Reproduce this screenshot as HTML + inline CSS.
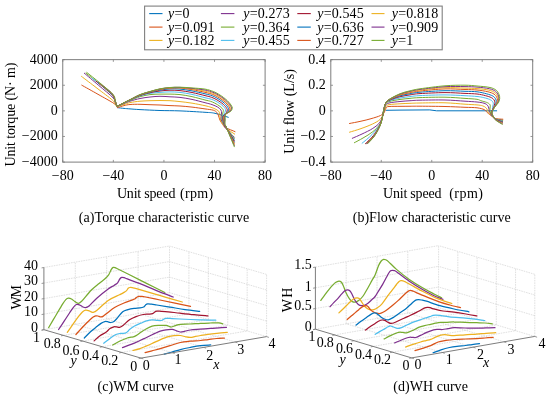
<!DOCTYPE html>
<html lang="en">
<head>
<meta charset="utf-8">
<title>Characteristic curves</title>
<style>
html,body{margin:0;padding:0;background:#fff;}
body{width:550px;height:396px;overflow:hidden;}
svg text{font-family:"Liberation Serif","Times New Roman",serif;}
</style>
</head>
<body>
<svg width="550" height="396" viewBox="0 0 550 396" font-family='"Liberation Serif", "Times New Roman", serif' style="display:block">
<rect width="550" height="396" fill="#fff"/>
<path d="M117.7 107.7 C118.75 107.82 121.95 108.2 124 108.4 C126.05 108.6 127.33 108.7 130 108.9 C132.67 109.1 135 109.33 140 109.6 C145 109.87 153.33 110.28 160 110.5 C166.67 110.72 172.5 110.6 180 110.9 C187.5 111.2 199.17 111.9 205 112.3 C210.83 112.7 211.12 112.47 215 113.3 C218.88 114.13 226.08 116.63 228.3 117.3" stroke="#0072BD" stroke-width="1.0" fill="none" stroke-linejoin="round" stroke-linecap="round"/>
<path d="M81.8 85.2 C84.5 86.72 92.6 91.23 98 94.3 C103.4 97.37 110.93 101.38 114.2 103.6 C117.47 105.82 117.03 106.93 117.6 107.6 M117.7 107.6 C118.75 107.27 121.95 106.12 124 105.6 C126.05 105.08 127.33 104.72 130 104.5 C132.67 104.28 136.67 104.27 140 104.3 C143.33 104.33 146.67 104.58 150 104.7 C153.33 104.82 156.67 104.85 160 105 C163.33 105.15 166.67 105.43 170 105.6 C173.33 105.77 176.33 105.75 180 106 C183.67 106.25 187.83 106.62 192 107.1 C196.17 107.59 201.45 108.38 205 108.9 C208.55 109.42 211.33 109.62 213.3 110.2 C215.27 110.78 215.97 111.58 216.8 112.4 C217.63 113.22 217.78 113.83 218.3 115.1 C218.82 116.37 219.18 118.47 219.9 120 C220.62 121.53 221.65 123.03 222.6 124.3 C223.55 125.57 223.53 126.38 225.6 127.6 C227.67 128.82 233.43 130.93 235 131.6" stroke="#D95319" stroke-width="1.0" fill="none" stroke-linejoin="round" stroke-linecap="round"/>
<path d="M81.5 76.4 C84.08 78.37 91.83 84.23 97 88.2 C102.17 92.17 109.45 97.47 112.5 100.2 C115.55 102.93 114.55 103.53 115.3 104.6 C116.05 105.67 116.72 106.27 117 106.6 M117.3 106.3 C118.42 106.02 121.88 105.22 124 104.6 C126.12 103.98 127.33 103.17 130 102.6 C132.67 102.03 136.67 101.52 140 101.2 C143.33 100.88 146.67 100.82 150 100.7 C153.33 100.58 156.67 100.5 160 100.5 C163.33 100.5 166.67 100.52 170 100.7 C173.33 100.88 176.33 101.19 180 101.6 C183.67 102.01 187.83 102.47 192 103.16 C196.17 103.84 201.83 105.01 205 105.7 C208.17 106.39 209.33 106.77 211 107.3 C212.67 107.83 213.73 108.27 215 108.9 C216.27 109.53 217.8 110.22 218.6 111.1 C219.4 111.98 219.52 112.72 219.8 114.2 C220.08 115.68 219.78 118.37 220.3 120 C220.82 121.63 222.02 122.67 222.9 124 C223.78 125.33 223.63 126.32 225.6 128 C227.57 129.68 233.18 133.08 234.7 134.1" stroke="#EDB120" stroke-width="1.0" fill="none" stroke-linejoin="round" stroke-linecap="round"/>
<path d="M84.3 73.2 C86.7 75.23 93.9 81.3 98.7 85.4 C103.5 89.5 110.28 94.77 113.1 97.8 C115.92 100.83 114.97 102.23 115.6 103.6 C116.23 104.97 116.68 105.6 116.9 106 M117.3 106.3 C118.42 105.85 121.88 104.45 124 103.6 C126.12 102.75 127.33 102.05 130 101.2 C132.67 100.35 136.67 99.2 140 98.5 C143.33 97.8 146.67 97.37 150 97 C153.33 96.63 156.67 96.33 160 96.3 C163.33 96.27 166.67 96.62 170 96.8 C173.33 96.98 176.33 96.96 180 97.4 C183.67 97.84 187.83 98.53 192 99.41 C196.17 100.3 201.67 101.84 205 102.7 C208.33 103.56 209.88 103.87 212 104.6 C214.12 105.33 216.22 106.2 217.7 107.1 C219.18 108 220.27 109.02 220.9 110 C221.53 110.98 221.45 111.92 221.5 113 C221.55 114.08 221.25 115.33 221.2 116.5 C221.15 117.67 220.8 118.75 221.2 120 C221.6 121.25 222.83 122.6 223.6 124 C224.37 125.4 224.02 126.2 225.8 128.4 C227.58 130.6 232.88 135.73 234.3 137.2" stroke="#7E2F8E" stroke-width="1.0" fill="none" stroke-linejoin="round" stroke-linecap="round"/>
<path d="M86.04 73.28 C88.24 75.04 94.87 80.18 99.24 83.83 C103.6 87.48 109.65 92.41 112.24 95.18 C114.82 97.94 114.08 98.85 114.76 100.42 C115.44 101.99 115.94 103.67 116.3 104.6 C116.66 105.53 116.8 105.77 116.9 106 M117.3 106.3 C118.42 105.78 121.88 104.17 124 103.2 C126.12 102.23 127.33 101.58 130 100.5 C132.67 99.42 136.67 97.68 140 96.7 C143.33 95.72 146.67 95.03 150 94.6 C153.33 94.17 156.67 94.18 160 94.1 C163.33 94.02 166.67 94.02 170 94.1 C173.33 94.18 176.33 94.17 180 94.6 C183.67 95.03 187.83 95.75 192 96.65 C196.17 97.55 201.91 99.23 205 100 C208.09 100.77 208.99 100.83 210.52 101.3 C212.05 101.77 213.03 102.27 214.2 102.83 C215.37 103.39 216.53 104.04 217.51 104.65 C218.49 105.25 219.35 105.88 220.09 106.46 C220.82 107.05 221.45 107.66 221.93 108.15 C222.4 108.65 222.69 109.05 222.94 109.44 C223.19 109.83 223.42 109.89 223.4 110.5 C223.38 111.11 223 112.33 222.8 113.1 C222.6 113.87 222.33 114.62 222.2 115.1 C222.07 115.58 222.02 115.18 222 116 C221.98 116.82 221.82 118.67 222.1 120 C222.38 121.33 222.99 122.78 223.66 124 C224.33 125.22 224.35 124.9 226.12 127.3 C227.89 129.7 232.94 136.54 234.3 138.39" stroke="#77AC30" stroke-width="1.0" fill="none" stroke-linejoin="round" stroke-linecap="round"/>
<path d="M92.04 78.06 C93.74 79.41 98.9 83.32 102.29 86.16 C105.67 88.99 110.25 92.68 112.34 95.06 C114.43 97.43 114.16 98.8 114.82 100.39 C115.48 101.98 115.95 103.66 116.3 104.6 C116.65 105.54 116.8 105.77 116.9 106 M117.3 106.3 C118.42 105.75 121.88 104.02 124 103 C126.12 101.98 127.33 101.38 130 100.2 C132.67 99.02 136.67 97.03 140 95.9 C143.33 94.77 146.67 93.98 150 93.4 C153.33 92.82 156.67 92.65 160 92.4 C163.33 92.15 166.67 91.9 170 91.9 C173.33 91.9 176.33 91.98 180 92.4 C183.67 92.82 187.83 93.53 192 94.41 C196.17 95.3 201.8 96.9 205 97.7 C208.2 98.5 209.46 98.66 211.18 99.2 C212.9 99.74 214 100.32 215.3 100.96 C216.6 101.61 217.91 102.36 219.01 103.06 C220.11 103.75 221.07 104.47 221.89 105.15 C222.72 105.82 223.42 106.52 223.95 107.1 C224.48 107.67 224.81 108.13 225.08 108.58 C225.36 109.03 225.63 109.15 225.6 109.8 C225.57 110.45 225.2 111.69 224.89 112.47 C224.58 113.25 224.15 113.91 223.74 114.5 C223.34 115.09 222.66 115.08 222.46 116 C222.26 116.92 222.31 118.67 222.54 120 C222.77 121.33 223.24 122.78 223.84 124 C224.44 125.22 224.41 124.7 226.15 127.3 C227.89 129.9 232.94 137.53 234.3 139.58" stroke="#4DBEEE" stroke-width="1.0" fill="none" stroke-linejoin="round" stroke-linecap="round"/>
<path d="M96.14 81.23 C97.51 82.31 101.67 85.4 104.39 87.68 C107.1 89.97 110.69 92.82 112.44 94.93 C114.19 97.05 114.24 98.74 114.88 100.35 C115.53 101.96 115.96 103.66 116.3 104.6 C116.64 105.54 116.8 105.77 116.9 106 M117.3 106.3 C118.42 105.73 121.88 103.95 124 102.9 C126.12 101.85 127.33 101.23 130 100 C132.67 98.77 136.67 96.72 140 95.5 C143.33 94.28 146.67 93.45 150 92.7 C153.33 91.95 156.67 91.42 160 91 C163.33 90.58 166.67 90.27 170 90.2 C173.33 90.13 176.33 90.22 180 90.6 C183.67 90.98 187.83 91.67 192 92.5 C196.17 93.33 201.72 94.79 205 95.6 C208.28 96.41 209.83 96.72 211.69 97.36 C213.55 98 214.74 98.68 216.15 99.43 C217.56 100.18 218.97 101.07 220.16 101.89 C221.35 102.71 222.39 103.55 223.29 104.34 C224.18 105.13 224.94 105.96 225.52 106.63 C226.09 107.3 226.45 107.84 226.74 108.36 C227.04 108.89 227.35 109.1 227.3 109.8 C227.25 110.5 226.89 111.74 226.47 112.54 C226.05 113.34 225.38 114.02 224.79 114.6 C224.19 115.18 223.21 115.1 222.91 116 C222.61 116.9 222.8 118.67 222.99 120 C223.17 121.33 223.48 122.78 224.01 124 C224.55 125.22 224.47 124.5 226.18 127.3 C227.89 130.09 232.95 138.52 234.3 140.77" stroke="#A2142F" stroke-width="1.0" fill="none" stroke-linejoin="round" stroke-linecap="round"/>
<path d="M98.24 82.81 C99.45 83.75 103.1 86.41 105.49 88.41 C107.87 90.41 110.96 92.83 112.54 94.81 C114.11 96.8 114.32 98.68 114.94 100.31 C115.57 101.95 115.97 103.65 116.3 104.6 C116.63 105.55 116.8 105.77 116.9 106 M117.3 106.3 C118.42 105.72 121.88 103.87 124 102.8 C126.12 101.73 127.33 101.17 130 99.9 C132.67 98.63 136.67 96.48 140 95.2 C143.33 93.92 146.67 93.03 150 92.2 C153.33 91.37 156.67 90.75 160 90.2 C163.33 89.65 166.67 89.08 170 88.9 C173.33 88.72 176.33 88.77 180 89.1 C183.67 89.43 187.83 90.1 192 90.89 C196.17 91.67 201.65 92.99 205 93.8 C208.35 94.61 210.13 95.02 212.11 95.72 C214.08 96.42 215.35 97.16 216.85 97.98 C218.35 98.8 219.85 99.77 221.12 100.66 C222.38 101.56 223.49 102.48 224.43 103.34 C225.38 104.2 226.19 105.1 226.8 105.84 C227.42 106.57 227.79 107.16 228.11 107.73 C228.42 108.31 228.76 108.57 228.7 109.3 C228.64 110.03 228.29 111.3 227.76 112.11 C227.23 112.93 226.26 113.55 225.53 114.2 C224.8 114.85 223.72 115.03 223.37 116 C223.02 116.97 223.29 118.67 223.43 120 C223.57 121.33 223.73 122.78 224.19 124 C224.65 125.22 224.53 124.31 226.21 127.3 C227.89 130.29 232.95 139.52 234.3 141.96" stroke="#0072BD" stroke-width="1.0" fill="none" stroke-linejoin="round" stroke-linecap="round"/>
<path d="M99.34 83.49 C100.46 84.36 103.87 86.83 106.09 88.69 C108.3 90.56 111.15 92.76 112.64 94.69 C114.12 96.62 114.39 98.63 115 100.28 C115.61 101.93 115.98 103.65 116.3 104.6 C116.62 105.55 116.8 105.77 116.9 106 M117.3 106.3 C118.42 105.72 121.88 103.88 124 102.8 C126.12 101.72 127.33 101.1 130 99.8 C132.67 98.5 136.67 96.32 140 95 C143.33 93.68 146.67 92.8 150 91.9 C153.33 91 156.67 90.22 160 89.6 C163.33 88.98 166.67 88.47 170 88.2 C173.33 87.93 176.33 87.76 180 88 C183.67 88.24 187.83 88.92 192 89.63 C196.17 90.35 201.58 91.51 205 92.3 C208.42 93.09 210.42 93.61 212.5 94.36 C214.58 95.1 215.92 95.89 217.5 96.78 C219.08 97.66 220.67 98.69 222 99.65 C223.33 100.61 224.5 101.59 225.5 102.52 C226.5 103.44 227.35 104.41 228 105.19 C228.65 105.97 229.04 106.6 229.38 107.22 C229.71 107.84 230.07 108.14 230 108.9 C229.93 109.66 229.58 110.95 228.94 111.79 C228.3 112.62 227.02 113.2 226.17 113.9 C225.32 114.6 224.21 114.98 223.83 116 C223.45 117.02 223.78 118.67 223.87 120 C223.96 121.33 223.97 122.78 224.37 124 C224.76 125.22 224.58 124.11 226.24 127.3 C227.9 130.49 232.96 140.51 234.3 143.15" stroke="#D95319" stroke-width="1.0" fill="none" stroke-linejoin="round" stroke-linecap="round"/>
<path d="M99.94 83.77 C101.02 84.61 104.31 86.97 106.44 88.77 C108.57 90.57 111.3 92.66 112.74 94.57 C114.18 96.48 114.47 98.57 115.06 100.24 C115.66 101.91 115.99 103.64 116.3 104.6 C116.61 105.56 116.8 105.77 116.9 106 M117.3 106.3 C118.42 105.72 121.88 103.88 124 102.8 C126.12 101.72 127.33 101.13 130 99.8 C132.67 98.47 136.67 96.15 140 94.8 C143.33 93.45 146.67 92.63 150 91.7 C153.33 90.77 156.67 89.85 160 89.2 C163.33 88.55 166.67 88.07 170 87.8 C173.33 87.53 176.33 87.41 180 87.6 C183.67 87.79 187.83 88.35 192 88.93 C196.17 89.51 201.54 90.38 205 91.1 C208.46 91.82 210.61 92.47 212.77 93.24 C214.93 94.02 216.31 94.85 217.95 95.77 C219.59 96.69 221.23 97.76 222.61 98.76 C223.99 99.76 225.2 100.79 226.24 101.75 C227.27 102.71 228.16 103.72 228.83 104.53 C229.5 105.35 229.91 106.01 230.25 106.65 C230.6 107.3 230.99 107.62 230.9 108.4 C230.81 109.18 230.48 110.51 229.73 111.36 C228.98 112.21 227.32 112.73 226.41 113.5 C225.51 114.27 224.64 114.92 224.29 116 C223.94 117.08 224.27 118.67 224.31 120 C224.36 121.33 224.22 122.78 224.55 124 C224.87 125.22 224.64 123.91 226.27 127.3 C227.9 130.69 232.96 141.5 234.3 144.34" stroke="#EDB120" stroke-width="1.0" fill="none" stroke-linejoin="round" stroke-linecap="round"/>
<path d="M100.34 83.95 C101.4 84.76 104.61 87.05 106.69 88.8 C108.77 90.55 111.43 92.55 112.84 94.45 C114.25 96.35 114.55 98.51 115.12 100.21 C115.7 101.9 116 103.63 116.3 104.6 C116.6 105.57 116.8 105.77 116.9 106 M117.3 106.3 C118.42 105.7 121.88 103.8 124 102.7 C126.12 101.6 127.33 101.03 130 99.7 C132.67 98.37 136.67 96.05 140 94.7 C143.33 93.35 146.67 92.55 150 91.6 C153.33 90.65 156.67 89.67 160 89 C163.33 88.33 166.67 87.87 170 87.6 C173.33 87.33 176.33 87.27 180 87.4 C183.67 87.53 187.83 87.95 192 88.39 C196.17 88.82 201.5 89.36 205 90 C208.5 90.64 210.76 91.44 212.98 92.25 C215.2 93.07 216.62 93.94 218.3 94.91 C219.98 95.88 221.67 97.01 223.09 98.06 C224.51 99.11 225.75 100.19 226.81 101.2 C227.88 102.22 228.78 103.27 229.47 104.13 C230.16 104.99 230.58 105.68 230.94 106.36 C231.29 107.04 231.7 107.39 231.6 108.2 C231.5 109.01 231.17 110.36 230.31 111.23 C229.46 112.1 227.39 112.6 226.46 113.4 C225.53 114.2 225.03 114.9 224.74 116 C224.46 117.1 224.76 118.67 224.76 120 C224.75 121.33 224.47 122.78 224.72 124 C224.98 125.22 224.7 123.71 226.3 127.3 C227.9 130.89 232.97 142.49 234.3 145.53" stroke="#7E2F8E" stroke-width="1.0" fill="none" stroke-linejoin="round" stroke-linecap="round"/>
<path d="M86.74 72.43 C88.94 74.19 95.57 79.33 99.94 82.98 C104.31 86.63 110.4 91.47 112.94 94.33 C115.48 97.19 114.62 98.46 115.18 100.17 C115.74 101.88 116.01 103.63 116.3 104.6 C116.59 105.57 116.8 105.77 116.9 106 M117.3 106.3 C118.42 105.7 121.88 103.8 124 102.7 C126.12 101.6 127.33 101.05 130 99.7 C132.67 98.35 136.67 95.97 140 94.6 C143.33 93.23 146.67 92.47 150 91.5 C153.33 90.53 156.67 89.47 160 88.8 C163.33 88.13 166.67 87.77 170 87.5 C173.33 87.23 176.33 87.13 180 87.2 C183.67 87.27 187.83 87.61 192 87.92 C196.17 88.24 201.47 88.51 205 89.1 C208.53 89.69 210.91 90.59 213.19 91.44 C215.47 92.29 216.92 93.19 218.65 94.2 C220.38 95.2 222.11 96.38 223.56 97.47 C225.02 98.56 226.29 99.68 227.39 100.73 C228.48 101.79 229.41 102.88 230.12 103.78 C230.82 104.67 231.25 105.39 231.62 106.09 C231.98 106.79 232.42 107.16 232.3 108 C232.18 108.84 231.87 110.22 230.9 111.1 C229.93 111.98 227.45 112.48 226.5 113.3 C225.55 114.12 225.42 114.88 225.2 116 C224.98 117.12 225.25 118.67 225.2 120 C225.15 121.33 224.71 122.78 224.9 124 C225.09 125.22 224.76 123.51 226.33 127.3 C227.9 131.09 232.97 143.48 234.3 146.72" stroke="#77AC30" stroke-width="1.0" fill="none" stroke-linejoin="round" stroke-linecap="round"/>
<rect x="62.75" y="59.65" width="202.35" height="102.45" fill="none" stroke="#7d7d7d" stroke-width="1.0"/>
<line x1="62.75" y1="162.1" x2="62.75" y2="159.9" stroke="#7d7d7d" stroke-width="0.8"/>
<line x1="62.75" y1="59.65" x2="62.75" y2="61.85" stroke="#7d7d7d" stroke-width="0.8"/>
<text x="62.75" y="179.5" font-size="14" text-anchor="middle" fill="#000">−80</text>
<line x1="113.34" y1="162.1" x2="113.34" y2="159.9" stroke="#7d7d7d" stroke-width="0.8"/>
<line x1="113.34" y1="59.65" x2="113.34" y2="61.85" stroke="#7d7d7d" stroke-width="0.8"/>
<text x="113.34" y="179.5" font-size="14" text-anchor="middle" fill="#000">−40</text>
<line x1="163.93" y1="162.1" x2="163.93" y2="159.9" stroke="#7d7d7d" stroke-width="0.8"/>
<line x1="163.93" y1="59.65" x2="163.93" y2="61.85" stroke="#7d7d7d" stroke-width="0.8"/>
<text x="163.93" y="179.5" font-size="14" text-anchor="middle" fill="#000">0</text>
<line x1="214.52" y1="162.1" x2="214.52" y2="159.9" stroke="#7d7d7d" stroke-width="0.8"/>
<line x1="214.52" y1="59.65" x2="214.52" y2="61.85" stroke="#7d7d7d" stroke-width="0.8"/>
<text x="214.52" y="179.5" font-size="14" text-anchor="middle" fill="#000">40</text>
<line x1="265.11" y1="162.1" x2="265.11" y2="159.9" stroke="#7d7d7d" stroke-width="0.8"/>
<line x1="265.11" y1="59.65" x2="265.11" y2="61.85" stroke="#7d7d7d" stroke-width="0.8"/>
<text x="265.11" y="179.5" font-size="14" text-anchor="middle" fill="#000">80</text>
<line x1="62.75" y1="59.65" x2="64.95" y2="59.65" stroke="#7d7d7d" stroke-width="0.8"/>
<line x1="265.1" y1="59.65" x2="262.9" y2="59.65" stroke="#7d7d7d" stroke-width="0.8"/>
<text x="57.75" y="63.55" font-size="14" text-anchor="end" fill="#000">4000</text>
<line x1="62.75" y1="85.26" x2="64.95" y2="85.26" stroke="#7d7d7d" stroke-width="0.8"/>
<line x1="265.1" y1="85.26" x2="262.9" y2="85.26" stroke="#7d7d7d" stroke-width="0.8"/>
<text x="57.75" y="89.16" font-size="14" text-anchor="end" fill="#000">2000</text>
<line x1="62.75" y1="110.87" x2="64.95" y2="110.87" stroke="#7d7d7d" stroke-width="0.8"/>
<line x1="265.1" y1="110.87" x2="262.9" y2="110.87" stroke="#7d7d7d" stroke-width="0.8"/>
<text x="57.75" y="114.77" font-size="14" text-anchor="end" fill="#000">0</text>
<line x1="62.75" y1="136.48" x2="64.95" y2="136.48" stroke="#7d7d7d" stroke-width="0.8"/>
<line x1="265.1" y1="136.48" x2="262.9" y2="136.48" stroke="#7d7d7d" stroke-width="0.8"/>
<text x="57.75" y="140.38" font-size="14" text-anchor="end" fill="#000">−2000</text>
<line x1="62.75" y1="162.09" x2="64.95" y2="162.09" stroke="#7d7d7d" stroke-width="0.8"/>
<line x1="265.1" y1="162.09" x2="262.9" y2="162.09" stroke="#7d7d7d" stroke-width="0.8"/>
<text x="57.75" y="165.99" font-size="14" text-anchor="end" fill="#000">−4000</text>
<text x="116.9" y="197.8" font-size="14" text-anchor="start" textLength="58.5" lengthAdjust="spacing" fill="#000">Unit speed</text>
<text x="180" y="197.8" font-size="14" text-anchor="start" textLength="33.2" lengthAdjust="spacing" fill="#000">(rpm)</text>
<text x="15.2" y="114.6" font-size="14" text-anchor="middle" textLength="104" lengthAdjust="spacing" transform="rotate(-90 15.2 114.6)" fill="#000">Unit torque (N· m)</text>
<text x="163.93" y="222.3" font-size="14" text-anchor="middle" textLength="170.6" lengthAdjust="spacing" fill="#000">(a)Torque characteristic curve</text>
<path d="M386.2 110.3 L400 110.1 L429.8 109.9 L436.6 110.8 L460 110.8 L496.7 110.8" stroke="#0072BD" stroke-width="1.0" fill="none" stroke-linejoin="round" stroke-linecap="round"/>
<path d="M349.5 123.5 C351.42 123.12 357.42 122 361 121.2 C364.58 120.4 367.75 119.65 371 118.7 C374.25 117.75 378.27 116.62 380.5 115.5 C382.73 114.38 383.43 113.32 384.4 112 C385.37 110.68 385.53 108.52 386.3 107.6 C387.07 106.68 386.72 106.71 389 106.5 C391.28 106.29 396.5 106.38 400 106.34 C403.5 106.3 406.67 106.28 410 106.26 C413.33 106.23 414.17 106.16 420 106.2 C425.83 106.24 437.5 106.32 445 106.5 C452.5 106.68 459.67 107.08 465 107.3 C470.33 107.52 473.77 107.4 477 107.8 C480.23 108.2 482.7 108.92 484.4 109.7 C486.1 110.48 486.3 111.68 487.2 112.5 C488.1 113.32 488.75 113.78 489.8 114.6 C490.85 115.42 492.37 116.72 493.5 117.42 C494.63 118.12 495.05 118.5 496.6 118.8 C498.15 119.1 501.77 119.13 502.8 119.2" stroke="#D95319" stroke-width="1.0" fill="none" stroke-linejoin="round" stroke-linecap="round"/>
<path d="M349.5 132.2 C351.42 131.6 357.17 129.97 361 128.6 C364.83 127.23 369.3 125.55 372.5 124 C375.7 122.45 378.32 121.13 380.2 119.3 C382.08 117.47 382.83 115.12 383.8 113 C384.77 110.88 385.13 107.98 386 106.6 C386.87 105.22 386.67 105.17 389 104.7 C391.33 104.23 396.5 104.01 400 103.78 C403.5 103.55 406.67 103.45 410 103.32 C413.33 103.19 414.17 103.09 420 103 C425.83 102.91 437.5 102.6 445 102.8 C452.5 103 459.67 103.85 465 104.2 C470.33 104.55 474.08 104.63 477 104.9 C479.92 105.17 481.03 105.35 482.5 105.8 C483.97 106.25 484.98 106.9 485.8 107.6 C486.62 108.3 486.93 109.17 487.4 110 C487.87 110.83 488.07 111.78 488.6 112.6 C489.13 113.42 489.77 114.08 490.6 114.9 C491.43 115.72 492.6 116.86 493.6 117.54 C494.6 118.22 495.08 118.64 496.6 119 C498.12 119.36 501.72 119.59 502.74 119.71" stroke="#EDB120" stroke-width="1.0" fill="none" stroke-linejoin="round" stroke-linecap="round"/>
<path d="M352.3 138.3 C353.92 137.58 358.58 135.65 362 134 C365.42 132.35 369.77 130.42 372.8 128.4 C375.83 126.38 378.37 124.63 380.2 121.9 C382.03 119.17 382.9 114.75 383.8 112 C384.7 109.25 384.73 106.9 385.6 105.4 C386.47 103.9 386.6 103.65 389 103 C391.4 102.35 396.5 101.87 400 101.49 C403.5 101.11 406.67 100.95 410 100.73 C413.33 100.52 414.17 100.32 420 100.2 C425.83 100.08 437.5 99.83 445 100 C452.5 100.17 459.67 100.87 465 101.2 C470.33 101.53 473.83 101.67 477 102 C480.17 102.33 482.27 102.67 484 103.2 C485.73 103.73 486.6 104.4 487.4 105.2 C488.2 106 488.48 107.02 488.8 108 C489.12 108.98 488.93 110 489.3 111.1 C489.67 112.2 490.27 113.51 491 114.6 C491.73 115.69 492.77 116.89 493.7 117.66 C494.63 118.43 495.1 118.77 496.6 119.2 C498.1 119.63 501.67 120.05 502.68 120.22" stroke="#7E2F8E" stroke-width="1.0" fill="none" stroke-linejoin="round" stroke-linecap="round"/>
<path d="M354.4 142.7 C355.83 141.92 359.93 139.83 363 138 C366.07 136.17 369.93 134.12 372.8 131.7 C375.67 129.28 378.37 126.95 380.2 123.5 C382.03 120.05 382.93 114.18 383.8 111 C384.67 107.82 384.53 105.97 385.4 104.4 C386.27 102.83 386.57 102.43 389 101.6 C391.43 100.77 396.5 99.98 400 99.44 C403.5 98.9 406.67 98.67 410 98.36 C413.33 98.05 414.17 97.79 420 97.6 C425.83 97.41 437.5 97.07 445 97.2 C452.5 97.33 459.67 98.05 465 98.4 C470.33 98.75 474.37 98.92 477 99.3 C479.63 99.68 479.18 100.18 480.8 100.7 C482.42 101.22 485.27 101.85 486.7 102.4 C488.13 102.95 488.8 103.47 489.4 104 C490 104.53 490.2 104.93 490.3 105.6 C490.4 106.27 490.05 107.23 490 108 C489.95 108.77 489.98 109.68 490 110.2 C490.02 110.72 489.83 110.3 490.1 111.1 C490.37 111.9 490.98 113.89 491.6 115 C492.22 116.11 492.97 117.05 493.8 117.78 C494.63 118.51 495.13 118.91 496.6 119.4 C498.07 119.89 501.62 120.51 502.62 120.73" stroke="#77AC30" stroke-width="1.0" fill="none" stroke-linejoin="round" stroke-linecap="round"/>
<path d="M362.1 143.2 C363.75 141.77 368.95 137.87 372 134.6 C375.05 131.33 378.43 127.7 380.4 123.6 C382.37 119.5 382.95 113.3 383.8 110 C384.65 106.7 384.63 105.32 385.5 103.8 C386.37 102.28 386.58 101.86 389 100.9 C391.42 99.94 396.5 98.75 400 98.04 C403.5 97.32 406.67 97.01 410 96.61 C413.33 96.2 414.17 95.88 420 95.6 C425.83 95.32 437.5 94.88 445 94.9 C452.5 94.92 459.67 95.43 465 95.7 C470.33 95.97 473.87 96.18 477 96.5 C480.13 96.82 481.65 97.12 483.77 97.61 C485.89 98.11 488.29 98.84 489.73 99.47 C491.17 100.11 491.83 100.77 492.43 101.43 C493.02 102.08 493.23 102.63 493.3 103.4 C493.37 104.17 493 105.2 492.84 106.06 C492.69 106.91 492.31 108.05 492.36 108.53 C492.4 109 493.2 107.81 493.1 108.9 C493 109.99 491.64 113.54 491.77 115.04 C491.9 116.54 493.1 117.14 493.9 117.9 C494.7 118.66 495.16 119.04 496.6 119.6 C498.04 120.16 501.57 120.97 502.56 121.24" stroke="#4DBEEE" stroke-width="1.0" fill="none" stroke-linejoin="round" stroke-linecap="round"/>
<path d="M365.4 143.7 C366.75 142.32 370.97 138.78 373.5 135.4 C376.03 132.02 378.87 127.72 380.6 123.4 C382.33 119.08 383.08 112.8 383.9 109.5 C384.72 106.2 384.65 105.12 385.5 103.6 C386.35 102.08 386.58 101.55 389 100.4 C391.42 99.25 396.5 97.65 400 96.73 C403.5 95.81 406.67 95.41 410 94.89 C413.33 94.37 414.17 93.98 420 93.6 C425.83 93.22 437.5 92.63 445 92.6 C452.5 92.57 459.67 93.17 465 93.4 C470.33 93.63 473.61 93.63 477 94 C480.39 94.37 482.95 95.02 485.34 95.63 C487.74 96.24 489.9 96.92 491.36 97.64 C492.81 98.36 493.47 99.18 494.06 99.96 C494.65 100.73 494.86 101.42 494.9 102.3 C494.94 103.18 494.55 104.27 494.29 105.21 C494.02 106.16 493.77 106.87 493.31 107.96 C492.85 109.04 491.76 110.53 491.53 111.71 C491.3 112.9 491.53 114.03 491.94 115.09 C492.35 116.14 493.22 117.23 494 118.02 C494.78 118.81 495.18 119.18 496.6 119.8 C498.02 120.42 501.52 121.42 502.5 121.75" stroke="#A2142F" stroke-width="1.0" fill="none" stroke-linejoin="round" stroke-linecap="round"/>
<path d="M366.55 143.4 C367.87 142.03 372.07 138.6 374.45 135.2 C376.83 131.8 379.26 127.43 380.85 123 C382.44 118.57 383.21 111.87 384 108.6 C384.79 105.33 384.77 104.82 385.6 103.4 C386.43 101.98 386.6 101.36 389 100.1 C391.4 98.84 396.5 96.9 400 95.83 C403.5 94.77 406.67 94.31 410 93.7 C413.33 93.1 414.17 92.7 420 92.2 C425.83 91.7 437.5 90.85 445 90.7 C452.5 90.55 459.67 91.12 465 91.3 C470.33 91.48 473.38 91.38 477 91.8 C480.62 92.22 484.08 93.14 486.71 93.84 C489.35 94.55 491.32 95.21 492.79 96.01 C494.25 96.82 494.9 97.79 495.49 98.69 C496.07 99.58 496.29 100.42 496.3 101.4 C496.31 102.38 495.9 103.54 495.53 104.57 C495.16 105.6 494.72 106.39 494.07 107.59 C493.42 108.79 491.97 110.51 491.64 111.77 C491.32 113.03 491.7 114.07 492.11 115.13 C492.52 116.19 493.35 117.33 494.1 118.14 C494.85 118.95 495.21 119.31 496.6 120 C497.99 120.69 501.47 121.88 502.44 122.26" stroke="#0072BD" stroke-width="1.0" fill="none" stroke-linejoin="round" stroke-linecap="round"/>
<path d="M366.9 143.4 C368.18 142.03 372.27 138.6 374.6 135.2 C376.93 131.8 379.33 127.43 380.9 123 C382.47 118.57 383.22 111.87 384 108.6 C384.78 105.33 384.77 104.85 385.6 103.4 C386.43 101.95 386.6 101.28 389 99.9 C391.4 98.52 396.5 96.3 400 95.09 C403.5 93.89 406.67 93.37 410 92.69 C413.33 92.01 414.17 91.63 420 91 C425.83 90.37 437.5 89.15 445 88.9 C452.5 88.65 459.67 89.32 465 89.5 C470.33 89.68 473.19 89.62 477 90 C480.81 90.38 485.05 91.08 487.89 91.76 C490.72 92.44 492.54 93.19 494.01 94.09 C495.49 94.98 496.13 96.1 496.71 97.11 C497.3 98.13 497.52 99.11 497.5 100.2 C497.48 101.29 497.05 102.51 496.57 103.63 C496.09 104.75 495.43 105.55 494.63 106.91 C493.83 108.28 492.15 110.45 491.76 111.83 C491.37 113.2 491.88 114.1 492.29 115.17 C492.69 116.24 493.48 117.42 494.2 118.26 C494.92 119.1 495.24 119.45 496.6 120.2 C497.96 120.95 501.42 122.34 502.38 122.77" stroke="#D95319" stroke-width="1.0" fill="none" stroke-linejoin="round" stroke-linecap="round"/>
<path d="M367.25 143.4 C368.5 142.03 372.47 138.6 374.75 135.2 C377.03 131.8 379.41 127.43 380.95 123 C382.49 118.57 383.23 111.87 384 108.6 C384.77 105.33 384.77 104.88 385.6 103.4 C386.43 101.92 386.6 101.18 389 99.7 C391.4 98.22 396.5 95.81 400 94.52 C403.5 93.22 406.67 92.66 410 91.92 C413.33 91.19 414.17 90.8 420 90.1 C425.83 89.4 437.5 88.03 445 87.7 C452.5 87.37 459.67 87.95 465 88.1 C470.33 88.25 473.06 88.27 477 88.6 C480.94 88.93 485.68 89.41 488.66 90.07 C491.63 90.73 493.36 91.58 494.84 92.56 C496.32 93.54 496.97 94.8 497.54 95.94 C498.12 97.08 498.35 98.21 498.3 99.4 C498.25 100.59 497.8 101.88 497.21 103.09 C496.63 104.29 495.68 105.18 494.79 106.64 C493.9 108.11 492.26 110.46 491.87 111.89 C491.48 113.31 492.05 114.13 492.46 115.21 C492.86 116.3 493.61 117.52 494.3 118.38 C494.99 119.24 495.26 119.58 496.6 120.4 C497.94 121.22 501.37 122.8 502.32 123.28" stroke="#EDB120" stroke-width="1.0" fill="none" stroke-linejoin="round" stroke-linecap="round"/>
<path d="M367.6 143.4 C368.82 142.03 372.67 138.6 374.9 135.2 C377.13 131.8 379.48 127.43 381 123 C382.52 118.57 383.23 111.87 384 108.6 C384.77 105.33 384.77 104.9 385.6 103.4 C386.43 101.9 386.6 101.15 389 99.6 C391.4 98.05 396.5 95.47 400 94.09 C403.5 92.72 406.67 92.12 410 91.34 C413.33 90.56 414.17 90.17 420 89.4 C425.83 88.63 437.5 87.17 445 86.7 C452.5 86.23 459.67 86.53 465 86.6 C470.33 86.67 472.95 86.75 477 87.1 C481.05 87.45 486.23 87.98 489.33 88.69 C492.42 89.39 494.08 90.26 495.57 91.33 C497.06 92.39 497.7 93.81 498.27 95.07 C498.84 96.33 499.09 97.6 499 98.9 C498.91 100.2 498.45 101.55 497.76 102.84 C497.06 104.14 495.8 105.15 494.84 106.67 C493.88 108.19 492.35 110.51 491.99 111.94 C491.62 113.37 492.23 114.16 492.63 115.26 C493.03 116.35 493.74 117.61 494.4 118.5 C495.06 119.39 495.29 119.72 496.6 120.6 C497.91 121.48 501.32 123.26 502.26 123.79" stroke="#7E2F8E" stroke-width="1.0" fill="none" stroke-linejoin="round" stroke-linecap="round"/>
<path d="M367.95 143.4 C369.13 142.03 372.87 138.6 375.05 135.2 C377.23 131.8 379.56 127.43 381.05 123 C382.54 118.57 383.24 111.87 384 108.6 C384.76 105.33 384.77 104.92 385.6 103.4 C386.43 101.88 386.6 101.11 389 99.5 C391.4 97.89 396.5 95.17 400 93.72 C403.5 92.28 406.67 91.65 410 90.83 C413.33 90.01 414.17 89.64 420 88.8 C425.83 87.96 437.5 86.4 445 85.8 C452.5 85.2 459.67 85.17 465 85.2 C470.33 85.23 472.83 85.62 477 86 C481.17 86.38 486.78 86.78 490 87.5 C493.22 88.22 494.8 89.15 496.3 90.3 C497.8 91.45 498.43 93.02 499 94.4 C499.57 95.78 499.82 97.2 499.7 98.6 C499.58 100 499.1 101.42 498.3 102.8 C497.5 104.18 495.93 105.37 494.9 106.9 C493.87 108.43 492.45 110.6 492.1 112 C491.75 113.4 492.4 114.2 492.8 115.3 C493.2 116.4 493.87 117.7 494.5 118.62 C495.13 119.54 495.32 119.85 496.6 120.8 C497.88 121.75 501.27 123.72 502.2 124.3" stroke="#77AC30" stroke-width="1.0" fill="none" stroke-linejoin="round" stroke-linecap="round"/>
<rect x="330.8" y="59.65" width="201.9" height="102.45" fill="none" stroke="#7d7d7d" stroke-width="1.0"/>
<line x1="330.8" y1="162.1" x2="330.8" y2="159.9" stroke="#7d7d7d" stroke-width="0.8"/>
<line x1="330.8" y1="59.65" x2="330.8" y2="61.85" stroke="#7d7d7d" stroke-width="0.8"/>
<text x="330.8" y="179.5" font-size="14" text-anchor="middle" fill="#000">−80</text>
<line x1="381.28" y1="162.1" x2="381.28" y2="159.9" stroke="#7d7d7d" stroke-width="0.8"/>
<line x1="381.28" y1="59.65" x2="381.28" y2="61.85" stroke="#7d7d7d" stroke-width="0.8"/>
<text x="381.28" y="179.5" font-size="14" text-anchor="middle" fill="#000">−40</text>
<line x1="431.75" y1="162.1" x2="431.75" y2="159.9" stroke="#7d7d7d" stroke-width="0.8"/>
<line x1="431.75" y1="59.65" x2="431.75" y2="61.85" stroke="#7d7d7d" stroke-width="0.8"/>
<text x="431.75" y="179.5" font-size="14" text-anchor="middle" fill="#000">0</text>
<line x1="482.23" y1="162.1" x2="482.23" y2="159.9" stroke="#7d7d7d" stroke-width="0.8"/>
<line x1="482.23" y1="59.65" x2="482.23" y2="61.85" stroke="#7d7d7d" stroke-width="0.8"/>
<text x="482.23" y="179.5" font-size="14" text-anchor="middle" fill="#000">40</text>
<line x1="532.7" y1="162.1" x2="532.7" y2="159.9" stroke="#7d7d7d" stroke-width="0.8"/>
<line x1="532.7" y1="59.65" x2="532.7" y2="61.85" stroke="#7d7d7d" stroke-width="0.8"/>
<text x="532.7" y="179.5" font-size="14" text-anchor="middle" fill="#000">80</text>
<line x1="330.8" y1="59.65" x2="333" y2="59.65" stroke="#7d7d7d" stroke-width="0.8"/>
<line x1="532.7" y1="59.65" x2="530.5" y2="59.65" stroke="#7d7d7d" stroke-width="0.8"/>
<text x="325.8" y="63.55" font-size="14" text-anchor="end" fill="#000">0.4</text>
<line x1="330.8" y1="85.26" x2="333" y2="85.26" stroke="#7d7d7d" stroke-width="0.8"/>
<line x1="532.7" y1="85.26" x2="530.5" y2="85.26" stroke="#7d7d7d" stroke-width="0.8"/>
<text x="325.8" y="89.16" font-size="14" text-anchor="end" fill="#000">0.2</text>
<line x1="330.8" y1="110.87" x2="333" y2="110.87" stroke="#7d7d7d" stroke-width="0.8"/>
<line x1="532.7" y1="110.87" x2="530.5" y2="110.87" stroke="#7d7d7d" stroke-width="0.8"/>
<text x="325.8" y="114.77" font-size="14" text-anchor="end" fill="#000">0</text>
<line x1="330.8" y1="136.48" x2="333" y2="136.48" stroke="#7d7d7d" stroke-width="0.8"/>
<line x1="532.7" y1="136.48" x2="530.5" y2="136.48" stroke="#7d7d7d" stroke-width="0.8"/>
<text x="325.8" y="140.38" font-size="14" text-anchor="end" fill="#000">−0.2</text>
<line x1="330.8" y1="162.09" x2="333" y2="162.09" stroke="#7d7d7d" stroke-width="0.8"/>
<line x1="532.7" y1="162.09" x2="530.5" y2="162.09" stroke="#7d7d7d" stroke-width="0.8"/>
<text x="325.8" y="165.99" font-size="14" text-anchor="end" fill="#000">−0.4</text>
<text x="383" y="197.8" font-size="14" text-anchor="start" textLength="58.4" lengthAdjust="spacing" fill="#000">Unit speed</text>
<text x="449.2" y="197.8" font-size="14" text-anchor="start" textLength="33.8" lengthAdjust="spacing" fill="#000">(rpm)</text>
<text x="294" y="111.4" font-size="14" text-anchor="middle" textLength="84.5" lengthAdjust="spacing" transform="rotate(-90 294 111.4)" fill="#000">Unit flow (L/s)</text>
<text x="431.75" y="222.3" font-size="14" text-anchor="middle" textLength="158" lengthAdjust="spacing" fill="#000">(b)Flow characteristic curve</text>
<line x1="172.4" y1="352.73" x2="75.3" y2="324.33" stroke="#c6c6c6" stroke-width="0.55" stroke-dasharray="1.6 0.9"/>
<line x1="203.8" y1="347.36" x2="106.7" y2="318.96" stroke="#c6c6c6" stroke-width="0.55" stroke-dasharray="1.6 0.9"/>
<line x1="235.2" y1="341.99" x2="138.1" y2="313.59" stroke="#c6c6c6" stroke-width="0.55" stroke-dasharray="1.6 0.9"/>
<line x1="266.6" y1="336.62" x2="169.5" y2="308.22" stroke="#c6c6c6" stroke-width="0.55" stroke-dasharray="1.6 0.9"/>
<line x1="121.58" y1="352.42" x2="247.18" y2="330.94" stroke="#c6c6c6" stroke-width="0.55" stroke-dasharray="1.6 0.9"/>
<line x1="102.16" y1="346.74" x2="227.76" y2="325.26" stroke="#c6c6c6" stroke-width="0.55" stroke-dasharray="1.6 0.9"/>
<line x1="82.74" y1="341.06" x2="208.34" y2="319.58" stroke="#c6c6c6" stroke-width="0.55" stroke-dasharray="1.6 0.9"/>
<line x1="63.32" y1="335.38" x2="188.92" y2="313.9" stroke="#c6c6c6" stroke-width="0.55" stroke-dasharray="1.6 0.9"/>
<line x1="43.9" y1="329.7" x2="169.5" y2="308.22" stroke="#c6c6c6" stroke-width="0.55" stroke-dasharray="1.6 0.9"/>
<line x1="75.3" y1="324.33" x2="75.3" y2="262.13" stroke="#c6c6c6" stroke-width="0.55" stroke-dasharray="1.6 0.9"/>
<line x1="106.7" y1="318.96" x2="106.7" y2="256.76" stroke="#c6c6c6" stroke-width="0.55" stroke-dasharray="1.6 0.9"/>
<line x1="138.1" y1="313.59" x2="138.1" y2="251.39" stroke="#c6c6c6" stroke-width="0.55" stroke-dasharray="1.6 0.9"/>
<line x1="169.5" y1="308.22" x2="169.5" y2="246.02" stroke="#c6c6c6" stroke-width="0.55" stroke-dasharray="1.6 0.9"/>
<line x1="43.9" y1="314.15" x2="169.5" y2="292.67" stroke="#c6c6c6" stroke-width="0.55" stroke-dasharray="1.6 0.9"/>
<line x1="43.9" y1="298.6" x2="169.5" y2="277.12" stroke="#c6c6c6" stroke-width="0.55" stroke-dasharray="1.6 0.9"/>
<line x1="43.9" y1="283.05" x2="169.5" y2="261.57" stroke="#c6c6c6" stroke-width="0.55" stroke-dasharray="1.6 0.9"/>
<line x1="43.9" y1="267.5" x2="169.5" y2="246.02" stroke="#c6c6c6" stroke-width="0.55" stroke-dasharray="1.6 0.9"/>
<line x1="266.6" y1="336.62" x2="266.6" y2="274.42" stroke="#c6c6c6" stroke-width="0.55" stroke-dasharray="1.6 0.9"/>
<line x1="247.18" y1="330.94" x2="247.18" y2="268.74" stroke="#c6c6c6" stroke-width="0.55" stroke-dasharray="1.6 0.9"/>
<line x1="227.76" y1="325.26" x2="227.76" y2="263.06" stroke="#c6c6c6" stroke-width="0.55" stroke-dasharray="1.6 0.9"/>
<line x1="208.34" y1="319.58" x2="208.34" y2="257.38" stroke="#c6c6c6" stroke-width="0.55" stroke-dasharray="1.6 0.9"/>
<line x1="188.92" y1="313.9" x2="188.92" y2="251.7" stroke="#c6c6c6" stroke-width="0.55" stroke-dasharray="1.6 0.9"/>
<line x1="266.6" y1="321.07" x2="169.5" y2="292.67" stroke="#c6c6c6" stroke-width="0.55" stroke-dasharray="1.6 0.9"/>
<line x1="266.6" y1="305.52" x2="169.5" y2="277.12" stroke="#c6c6c6" stroke-width="0.55" stroke-dasharray="1.6 0.9"/>
<line x1="266.6" y1="289.97" x2="169.5" y2="261.57" stroke="#c6c6c6" stroke-width="0.55" stroke-dasharray="1.6 0.9"/>
<line x1="266.6" y1="274.42" x2="169.5" y2="246.02" stroke="#c6c6c6" stroke-width="0.55" stroke-dasharray="1.6 0.9"/>
<path d="M48.6 327.7 C49.75 325.75 53.15 319.97 55.5 316 C57.85 312.03 60.98 306.63 62.7 303.9 C64.42 301.17 64.85 300.55 65.8 299.6 C66.75 298.65 67.45 298.3 68.4 298.2 C69.35 298.1 70.4 298.43 71.5 299 C72.6 299.57 73.82 300.87 75 301.6 C76.18 302.33 77.43 303.52 78.6 303.4 C79.77 303.28 79.92 303.1 82 300.9 C84.08 298.7 88.25 293.12 91.1 290.2 C93.95 287.28 96.78 285.3 99.1 283.4 C101.42 281.5 103.38 280.27 105 278.8 C106.62 277.33 107.77 276.13 108.8 274.6 C109.83 273.07 110.47 270.8 111.2 269.6 C111.93 268.4 112.47 267.7 113.2 267.4 C113.93 267.1 114.73 267.5 115.6 267.8 C116.47 268.1 116 268 118.4 269.2 C120.8 270.4 125.23 272.6 130 275 C134.77 277.4 141.2 280.68 147 283.6 C152.8 286.52 161.83 291.02 164.8 292.5" stroke="#77AC30" stroke-width="1.25" fill="none" stroke-linejoin="round" stroke-linecap="round"/>
<path d="M58.6 329.5 C59.5 328.15 62.18 324.15 64 321.4 C65.82 318.65 67.93 315.35 69.5 313 C71.07 310.65 72.25 308.72 73.4 307.3 C74.55 305.88 75.4 304.92 76.4 304.5 C77.4 304.08 78.38 304.43 79.4 304.8 C80.42 305.17 81.48 306.22 82.5 306.7 C83.52 307.18 84.42 307.82 85.5 307.7 C86.58 307.58 87.12 307.58 89 306 C90.88 304.42 93.6 301.02 96.8 298.2 C100 295.38 105.33 291.23 108.2 289.1 C111.07 286.97 112.43 286.45 114 285.4 C115.57 284.35 116.63 283.87 117.6 282.8 C118.57 281.73 119.12 279.9 119.8 279 C120.48 278.1 120.97 277.62 121.7 277.4 C122.43 277.18 123.27 277.45 124.2 277.7 C125.13 277.95 124.67 277.9 127.3 278.9 C129.93 279.9 135.22 281.8 140 283.7 C144.78 285.6 150.47 288.08 156 290.3 C161.53 292.52 170.33 295.88 173.2 297" stroke="#7E2F8E" stroke-width="1.25" fill="none" stroke-linejoin="round" stroke-linecap="round"/>
<path d="M67.3 332.3 C68.25 330.95 71.12 326.85 73 324.2 C74.88 321.55 77.03 318.43 78.6 316.4 C80.17 314.37 81.25 313.03 82.4 312 C83.55 310.97 84.48 310.43 85.5 310.2 C86.52 309.97 87.55 310.32 88.5 310.6 C89.45 310.88 90.38 311.62 91.2 311.9 C92.02 312.18 92.43 312.58 93.4 312.3 C94.37 312.02 94.53 312.17 97 310.2 C99.47 308.23 104.45 303.07 108.2 300.5 C111.95 297.93 116.87 296.15 119.5 294.8 C122.13 293.45 122.82 293.1 124 292.4 C125.18 291.7 125.9 291.28 126.6 290.6 C127.3 289.92 127.67 288.82 128.2 288.3 C128.73 287.78 129.1 287.6 129.8 287.5 C130.5 287.4 131.3 287.52 132.4 287.7 C133.5 287.88 133.47 287.78 136.4 288.6 C139.33 289.42 145.07 291.15 150 292.6 C154.93 294.05 160.62 295.73 166 297.3 C171.38 298.87 179.58 301.22 182.3 302" stroke="#EDB120" stroke-width="1.25" fill="none" stroke-linejoin="round" stroke-linecap="round"/>
<path d="M75.9 334.5 C77.08 333.22 80.65 329.25 83 326.8 C85.35 324.35 88.3 321.43 90 319.8 C91.7 318.17 92.25 317.65 93.2 317 C94.15 316.35 94.9 316.07 95.7 315.9 C96.5 315.73 97.25 315.85 98 316 C98.75 316.15 99.37 316.73 100.2 316.8 C101.03 316.87 101.7 317.13 103 316.4 C104.3 315.67 106 313.92 108 312.4 C110 310.88 112.33 308.87 115 307.3 C117.67 305.73 120.82 304.33 124 303 C127.18 301.67 132.07 300.2 134.1 299.3 C136.13 298.4 135.45 298.08 136.2 297.6 C136.95 297.12 137.7 296.6 138.6 296.4 C139.5 296.2 140.45 296.3 141.6 296.4 C142.75 296.5 142.43 296.4 145.5 297 C148.57 297.6 155.08 298.98 160 300 C164.92 301.02 169.92 302.03 175 303.1 C180.08 304.17 187.92 305.85 190.5 306.4" stroke="#D95319" stroke-width="1.25" fill="none" stroke-linejoin="round" stroke-linecap="round"/>
<path d="M84.3 338 C85.33 336.97 88.42 333.7 90.5 331.8 C92.58 329.9 95.05 328 96.8 326.6 C98.55 325.2 99.67 324.23 101 323.4 C102.33 322.57 103.7 321.88 104.8 321.6 C105.9 321.32 106.65 321.55 107.6 321.7 C108.55 321.85 109.43 322.55 110.5 322.5 C111.57 322.45 112.83 322.18 114 321.4 C115.17 320.62 116.05 319.4 117.5 317.8 C118.95 316.2 120.95 313.17 122.7 311.8 C124.45 310.43 126.1 310.17 128 309.6 C129.9 309.03 132.1 308.68 134.1 308.4 C136.1 308.12 138.42 308.13 140 307.9 C141.58 307.67 142.67 307.5 143.6 307 C144.53 306.5 144.92 305.42 145.6 304.9 C146.28 304.38 146.72 304.02 147.7 303.9 C148.68 303.78 149.98 304.02 151.5 304.2 C153.02 304.38 153.72 304.52 156.8 305 C159.88 305.48 165.3 306.33 170 307.1 C174.7 307.87 180.05 308.9 185 309.6 C189.95 310.3 197.25 311.02 199.7 311.3" stroke="#0072BD" stroke-width="1.25" fill="none" stroke-linejoin="round" stroke-linecap="round"/>
<path d="M94.1 340.9 C95.08 340.05 98.03 337.23 100 335.8 C101.97 334.37 104.23 333.5 105.9 332.3 C107.57 331.1 108.67 329.52 110 328.6 C111.33 327.68 112.8 327.08 113.9 326.8 C115 326.52 115.67 326.82 116.6 326.9 C117.53 326.98 118.43 327.55 119.5 327.3 C120.57 327.05 121.33 326.65 123 325.4 C124.67 324.15 127.33 321.27 129.5 319.8 C131.67 318.33 133.72 317.48 136 316.6 C138.28 315.72 141.12 314.9 143.2 314.5 C145.28 314.1 146.93 314.33 148.5 314.2 C150.07 314.07 151.55 314.07 152.6 313.7 C153.65 313.33 154.1 312.42 154.8 312 C155.5 311.58 155.77 311.32 156.8 311.2 C157.83 311.08 159.1 311.2 161 311.3 C162.9 311.4 165.03 311.48 168.2 311.8 C171.37 312.12 175.7 312.72 180 313.2 C184.3 313.68 189.35 314.25 194 314.7 C198.65 315.15 205.58 315.7 207.9 315.9" stroke="#A2142F" stroke-width="1.25" fill="none" stroke-linejoin="round" stroke-linecap="round"/>
<path d="M103.6 343.2 C104.67 342.4 107.95 339.85 110 338.4 C112.05 336.95 114.15 335.33 115.9 334.5 C117.65 333.67 118.98 333.62 120.5 333.4 C122.02 333.18 123.82 333.5 125 333.2 C126.18 332.9 126.85 332.22 127.6 331.6 C128.35 330.98 128.35 330.43 129.5 329.5 C130.65 328.57 132.6 327.05 134.5 326 C136.4 324.95 138.9 324.05 140.9 323.2 C142.9 322.35 144.6 321.47 146.5 320.9 C148.4 320.33 150.55 319.88 152.3 319.8 C154.05 319.72 155.48 320.28 157 320.4 C158.52 320.52 160.3 320.7 161.4 320.5 C162.5 320.3 162.85 319.55 163.6 319.2 C164.35 318.85 164.5 318.5 165.9 318.4 C167.3 318.3 169.65 318.5 172 318.6 C174.35 318.7 176.92 318.85 180 319 C183.08 319.15 186.67 319.35 190.5 319.5 C194.33 319.65 198.78 319.78 203 319.9 C207.22 320.02 213.67 320.15 215.8 320.2" stroke="#4DBEEE" stroke-width="1.25" fill="none" stroke-linejoin="round" stroke-linecap="round"/>
<path d="M112.7 345 C113.92 344.33 117.57 342.17 120 341 C122.43 339.83 125.47 338.63 127.3 338 C129.13 337.37 129.87 337.43 131 337.2 C132.13 336.97 133.02 337 134.1 336.6 C135.18 336.2 136.37 335.52 137.5 334.8 C138.63 334.08 139.48 333.27 140.9 332.3 C142.32 331.33 144.13 330.02 146 329 C147.87 327.98 149.93 326.8 152.1 326.2 C154.27 325.6 156.63 325.53 159 325.4 C161.37 325.27 164.63 325.25 166.3 325.4 C167.97 325.55 168.17 326.03 169 326.3 C169.83 326.57 170.22 327.12 171.3 327 C172.38 326.88 173.98 326.05 175.5 325.6 C177.02 325.15 177.98 324.57 180.4 324.3 C182.82 324.03 186.63 324.17 190 324 C193.37 323.83 197.27 323.47 200.6 323.3 C203.93 323.13 206.97 323.07 210 323 C213.03 322.93 216.67 322.75 218.8 322.9 C220.93 323.05 222.13 323.73 222.8 323.9" stroke="#77AC30" stroke-width="1.25" fill="none" stroke-linejoin="round" stroke-linecap="round"/>
<path d="M122.5 347.6 C124.05 347.03 128.88 345.38 131.8 344.2 C134.72 343.02 137.8 341.5 140 340.5 C142.2 339.5 143.32 338.98 145 338.2 C146.68 337.42 148.43 336.6 150.1 335.8 C151.77 335 153.32 334.17 155 333.4 C156.68 332.63 158.37 331.8 160.2 331.2 C162.03 330.6 163.98 330.1 166 329.8 C168.02 329.5 170.55 329.23 172.3 329.4 C174.05 329.57 175.15 330.37 176.5 330.8 C177.85 331.23 178.98 331.93 180.4 332 C181.82 332.07 183.32 331.53 185 331.2 C186.68 330.87 188 330.33 190.5 330 C193 329.67 196.63 329.47 200 329.2 C203.37 328.93 207.53 328.62 210.7 328.4 C213.87 328.18 216.37 328.07 219 327.9 C221.63 327.73 225.25 327.48 226.5 327.4" stroke="#7E2F8E" stroke-width="1.25" fill="none" stroke-linejoin="round" stroke-linecap="round"/>
<path d="M133 350.4 C134.17 350.1 137.83 349.3 140 348.6 C142.17 347.9 143.98 347.05 146 346.2 C148.02 345.35 149.77 344.57 152.1 343.5 C154.43 342.43 157.3 340.95 160 339.8 C162.7 338.65 165.97 337.3 168.3 336.6 C170.63 335.9 171.98 335.78 174 335.6 C176.02 335.42 178.47 335.3 180.4 335.5 C182.33 335.7 183.92 336.48 185.6 336.8 C187.28 337.12 188.85 337.47 190.5 337.4 C192.15 337.33 193.82 336.72 195.5 336.4 C197.18 336.08 198.52 335.83 200.6 335.5 C202.68 335.17 205.3 334.75 208 334.4 C210.7 334.05 213.58 333.73 216.8 333.4 C220.02 333.07 225.55 332.57 227.3 332.4" stroke="#EDB120" stroke-width="1.25" fill="none" stroke-linejoin="round" stroke-linecap="round"/>
<path d="M145.1 352.6 C146.25 352.3 149.48 351.47 152 350.8 C154.52 350.13 157.2 349.45 160.2 348.6 C163.2 347.75 166.63 346.72 170 345.7 C173.37 344.68 177.07 343.25 180.4 342.5 C183.73 341.75 186.63 341.53 190 341.2 C193.37 340.87 197.6 340.77 200.6 340.5 C203.6 340.23 205.3 339.93 208 339.6 C210.7 339.27 214.07 338.75 216.8 338.5 C219.53 338.25 223.13 338.17 224.4 338.1" stroke="#D95319" stroke-width="1.25" fill="none" stroke-linejoin="round" stroke-linecap="round"/>
<path d="M164.2 354.2 C165.5 353.83 169.3 352.77 172 352 C174.7 351.23 177.4 350.35 180.4 349.6 C183.4 348.85 186.63 348.17 190 347.5 C193.37 346.83 197.15 346.03 200.6 345.6 C204.05 345.17 209.02 345.02 210.7 344.9" stroke="#0072BD" stroke-width="1.25" fill="none" stroke-linejoin="round" stroke-linecap="round"/>
<path d="M43.9 267.5 L43.9 329.7 L141 358.1 L266.6 336.62" fill="none" stroke="#7d7d7d" stroke-width="1.0"/>
<line x1="43.9" y1="329.7" x2="41.6" y2="330.1" stroke="#7d7d7d" stroke-width="0.8"/>
<text x="38" y="332" font-size="14" text-anchor="end" fill="#000">0</text>
<line x1="43.9" y1="314.15" x2="41.6" y2="314.55" stroke="#7d7d7d" stroke-width="0.8"/>
<text x="38" y="316.45" font-size="14" text-anchor="end" fill="#000">10</text>
<line x1="43.9" y1="298.6" x2="41.6" y2="299" stroke="#7d7d7d" stroke-width="0.8"/>
<text x="38" y="300.9" font-size="14" text-anchor="end" fill="#000">20</text>
<line x1="43.9" y1="283.05" x2="41.6" y2="283.45" stroke="#7d7d7d" stroke-width="0.8"/>
<text x="38" y="285.35" font-size="14" text-anchor="end" fill="#000">30</text>
<line x1="43.9" y1="267.5" x2="41.6" y2="267.9" stroke="#7d7d7d" stroke-width="0.8"/>
<text x="38" y="269.8" font-size="14" text-anchor="end" fill="#000">40</text>
<line x1="141" y1="358.1" x2="138.7" y2="358.6" stroke="#7d7d7d" stroke-width="0.8"/>
<line x1="121.58" y1="352.42" x2="119.28" y2="352.92" stroke="#7d7d7d" stroke-width="0.8"/>
<line x1="102.16" y1="346.74" x2="99.86" y2="347.24" stroke="#7d7d7d" stroke-width="0.8"/>
<line x1="82.74" y1="341.06" x2="80.44" y2="341.56" stroke="#7d7d7d" stroke-width="0.8"/>
<line x1="63.32" y1="335.38" x2="61.02" y2="335.88" stroke="#7d7d7d" stroke-width="0.8"/>
<line x1="43.9" y1="329.7" x2="41.6" y2="330.2" stroke="#7d7d7d" stroke-width="0.8"/>
<line x1="141" y1="358.1" x2="143.3" y2="358.9" stroke="#7d7d7d" stroke-width="0.8"/>
<line x1="172.4" y1="352.73" x2="174.7" y2="353.53" stroke="#7d7d7d" stroke-width="0.8"/>
<line x1="203.8" y1="347.36" x2="206.1" y2="348.16" stroke="#7d7d7d" stroke-width="0.8"/>
<line x1="235.2" y1="341.99" x2="237.5" y2="342.79" stroke="#7d7d7d" stroke-width="0.8"/>
<line x1="266.6" y1="336.62" x2="268.9" y2="337.42" stroke="#7d7d7d" stroke-width="0.8"/>
<text x="36.6" y="342" font-size="14" text-anchor="middle" fill="#000">1</text>
<text x="52.2" y="348.2" font-size="14" text-anchor="middle" textLength="17" lengthAdjust="spacing" fill="#000">0.8</text>
<text x="71.1" y="354.9" font-size="14" text-anchor="middle" textLength="17" lengthAdjust="spacing" fill="#000">0.6</text>
<text x="90.6" y="360.1" font-size="14" text-anchor="middle" textLength="17" lengthAdjust="spacing" fill="#000">0.4</text>
<text x="109.8" y="365.3" font-size="14" text-anchor="middle" textLength="17" lengthAdjust="spacing" fill="#000">0.2</text>
<text x="133.7" y="370.7" font-size="14" text-anchor="middle" fill="#000">0</text>
<text x="146.3" y="370" font-size="14" text-anchor="middle" fill="#000">0</text>
<text x="177.9" y="364.4" font-size="14" text-anchor="middle" fill="#000">1</text>
<text x="209.7" y="359.7" font-size="14" text-anchor="middle" fill="#000">2</text>
<text x="240.7" y="353.6" font-size="14" text-anchor="middle" fill="#000">3</text>
<text x="272.1" y="348.4" font-size="14" text-anchor="middle" fill="#000">4</text>
<text x="73.5" y="365.2" font-size="14" text-anchor="middle" font-style="italic" fill="#000">y</text>
<text x="216.4" y="369" font-size="14" text-anchor="middle" font-style="italic" fill="#000">x</text>
<text x="21.5" y="297.3" font-size="14" text-anchor="middle" textLength="24.5" lengthAdjust="spacing" transform="rotate(-90 21.5 297.3)" fill="#000">WM</text>
<text x="135.6" y="390.6" font-size="14" text-anchor="middle" textLength="76.3" lengthAdjust="spacing" fill="#000">(c)WM curve</text>
<line x1="442.4" y1="352.53" x2="346.2" y2="323.83" stroke="#c6c6c6" stroke-width="0.55" stroke-dasharray="1.6 0.9"/>
<line x1="473.2" y1="347.16" x2="377" y2="318.46" stroke="#c6c6c6" stroke-width="0.55" stroke-dasharray="1.6 0.9"/>
<line x1="504" y1="341.79" x2="407.8" y2="313.09" stroke="#c6c6c6" stroke-width="0.55" stroke-dasharray="1.6 0.9"/>
<line x1="534.8" y1="336.42" x2="438.6" y2="307.72" stroke="#c6c6c6" stroke-width="0.55" stroke-dasharray="1.6 0.9"/>
<line x1="392.36" y1="352.16" x2="515.56" y2="330.68" stroke="#c6c6c6" stroke-width="0.55" stroke-dasharray="1.6 0.9"/>
<line x1="373.12" y1="346.42" x2="496.32" y2="324.94" stroke="#c6c6c6" stroke-width="0.55" stroke-dasharray="1.6 0.9"/>
<line x1="353.88" y1="340.68" x2="477.08" y2="319.2" stroke="#c6c6c6" stroke-width="0.55" stroke-dasharray="1.6 0.9"/>
<line x1="334.64" y1="334.94" x2="457.84" y2="313.46" stroke="#c6c6c6" stroke-width="0.55" stroke-dasharray="1.6 0.9"/>
<line x1="315.4" y1="329.2" x2="438.6" y2="307.72" stroke="#c6c6c6" stroke-width="0.55" stroke-dasharray="1.6 0.9"/>
<line x1="346.2" y1="323.83" x2="346.2" y2="261.73" stroke="#c6c6c6" stroke-width="0.55" stroke-dasharray="1.6 0.9"/>
<line x1="377" y1="318.46" x2="377" y2="256.36" stroke="#c6c6c6" stroke-width="0.55" stroke-dasharray="1.6 0.9"/>
<line x1="407.8" y1="313.09" x2="407.8" y2="250.99" stroke="#c6c6c6" stroke-width="0.55" stroke-dasharray="1.6 0.9"/>
<line x1="438.6" y1="307.72" x2="438.6" y2="245.62" stroke="#c6c6c6" stroke-width="0.55" stroke-dasharray="1.6 0.9"/>
<line x1="315.4" y1="308.5" x2="438.6" y2="287.02" stroke="#c6c6c6" stroke-width="0.55" stroke-dasharray="1.6 0.9"/>
<line x1="315.4" y1="287.8" x2="438.6" y2="266.32" stroke="#c6c6c6" stroke-width="0.55" stroke-dasharray="1.6 0.9"/>
<line x1="315.4" y1="267.1" x2="438.6" y2="245.62" stroke="#c6c6c6" stroke-width="0.55" stroke-dasharray="1.6 0.9"/>
<line x1="534.8" y1="336.42" x2="534.8" y2="274.32" stroke="#c6c6c6" stroke-width="0.55" stroke-dasharray="1.6 0.9"/>
<line x1="515.56" y1="330.68" x2="515.56" y2="268.58" stroke="#c6c6c6" stroke-width="0.55" stroke-dasharray="1.6 0.9"/>
<line x1="496.32" y1="324.94" x2="496.32" y2="262.84" stroke="#c6c6c6" stroke-width="0.55" stroke-dasharray="1.6 0.9"/>
<line x1="477.08" y1="319.2" x2="477.08" y2="257.1" stroke="#c6c6c6" stroke-width="0.55" stroke-dasharray="1.6 0.9"/>
<line x1="457.84" y1="313.46" x2="457.84" y2="251.36" stroke="#c6c6c6" stroke-width="0.55" stroke-dasharray="1.6 0.9"/>
<line x1="534.8" y1="315.72" x2="438.6" y2="287.02" stroke="#c6c6c6" stroke-width="0.55" stroke-dasharray="1.6 0.9"/>
<line x1="534.8" y1="295.02" x2="438.6" y2="266.32" stroke="#c6c6c6" stroke-width="0.55" stroke-dasharray="1.6 0.9"/>
<line x1="534.8" y1="274.32" x2="438.6" y2="245.62" stroke="#c6c6c6" stroke-width="0.55" stroke-dasharray="1.6 0.9"/>
<path d="M320.8 300.4 C321.5 299.43 323.62 296.43 325 294.6 C326.38 292.77 327.85 290.93 329.1 289.4 C330.35 287.87 331.43 286.55 332.5 285.4 C333.57 284.25 334.43 283.22 335.5 282.5 C336.57 281.78 337.95 281.18 338.9 281.1 C339.85 281.02 340.48 281.28 341.2 282 C341.92 282.72 342.42 283.67 343.2 285.4 C343.98 287.13 344.85 290.17 345.9 292.4 C346.95 294.63 348.4 297.27 349.5 298.8 C350.6 300.33 351.55 301.03 352.5 301.6 C353.45 302.17 354.2 302.37 355.2 302.2 C356.2 302.03 357.25 301.55 358.5 300.6 C359.75 299.65 361.12 298.65 362.7 296.5 C364.28 294.35 366.45 290.38 368 287.7 C369.55 285.02 370.82 282.52 372 280.4 C373.18 278.28 374 277.47 375.1 275 C376.2 272.53 377.58 267.93 378.6 265.6 C379.62 263.27 380.37 262.05 381.2 261 C382.03 259.95 382.83 259.5 383.6 259.3 C384.37 259.1 385 259.42 385.8 259.8 C386.6 260.18 386.62 260 388.4 261.6 C390.18 263.2 393.08 266.47 396.5 269.4 C399.92 272.33 404.48 276.1 408.9 279.2 C413.32 282.3 418.73 285.5 423 288 C427.27 290.5 431.4 292.57 434.5 294.2 C437.6 295.83 440.42 297.2 441.6 297.8" stroke="#77AC30" stroke-width="1.25" fill="none" stroke-linejoin="round" stroke-linecap="round"/>
<path d="M330 306.7 C330.67 305.98 332.67 303.8 334 302.4 C335.33 301 336.75 299.67 338 298.3 C339.25 296.93 340.37 295.45 341.5 294.2 C342.63 292.95 343.77 291.53 344.8 290.8 C345.83 290.07 346.87 289.8 347.7 289.8 C348.53 289.8 349.12 290.13 349.8 290.8 C350.48 291.47 350.97 292.27 351.8 293.8 C352.63 295.33 353.72 298.22 354.8 300 C355.88 301.78 357.13 303.55 358.3 304.5 C359.47 305.45 360.68 305.62 361.8 305.7 C362.92 305.78 363.97 305.42 365 305 C366.03 304.58 366.92 304.03 368 303.2 C369.08 302.37 370.32 301.12 371.5 300 C372.68 298.88 373.88 298.07 375.1 296.5 C376.32 294.93 377.57 292.58 378.8 290.6 C380.03 288.62 381.32 286.65 382.5 284.6 C383.68 282.55 384.85 280.23 385.9 278.3 C386.95 276.37 388.02 274.25 388.8 273 C389.58 271.75 390.02 271.25 390.6 270.8 C391.18 270.35 391.68 270.33 392.3 270.3 C392.92 270.27 393.55 270.32 394.3 270.6 C395.05 270.88 394.37 270.28 396.8 272 C399.23 273.72 404.53 277.93 408.9 280.9 C413.27 283.87 418.98 287.42 423 289.8 C427.02 292.18 429.68 293.6 433 295.2 C436.32 296.8 441.25 298.7 442.9 299.4" stroke="#7E2F8E" stroke-width="1.25" fill="none" stroke-linejoin="round" stroke-linecap="round"/>
<path d="M338.9 312.9 C339.58 312.25 341.68 310.27 343 309 C344.32 307.73 345.63 306.47 346.8 305.3 C347.97 304.13 348.88 303.05 350 302 C351.12 300.95 352.33 299.68 353.5 299 C354.67 298.32 356.05 297.97 357 297.9 C357.95 297.83 358.5 298.05 359.2 298.6 C359.9 299.15 360.32 299.93 361.2 301.2 C362.08 302.47 363.43 304.93 364.5 306.2 C365.57 307.47 366.6 308.18 367.6 308.8 C368.6 309.42 369.47 309.75 370.5 309.9 C371.53 310.05 372.7 310.02 373.8 309.7 C374.9 309.38 375.73 308.98 377.1 308 C378.47 307.02 380.23 305.82 382 303.8 C383.77 301.78 386.03 298.13 387.7 295.9 C389.37 293.67 390.53 292.3 392 290.4 C393.47 288.5 395.37 285.95 396.5 284.5 C397.63 283.05 398.07 282.35 398.8 281.7 C399.53 281.05 400.2 280.75 400.9 280.6 C401.6 280.45 402.22 280.57 403 280.8 C403.78 281.03 403.77 281.03 405.6 282 C407.43 282.97 411.1 285.02 414 286.6 C416.9 288.18 419.17 289.53 423 291.5 C426.83 293.47 432.2 296.4 437 298.4 C441.8 300.4 449.33 302.65 451.8 303.5" stroke="#EDB120" stroke-width="1.25" fill="none" stroke-linejoin="round" stroke-linecap="round"/>
<path d="M347.2 319.5 C347.92 318.88 350.1 316.98 351.5 315.8 C352.9 314.62 354.35 313.47 355.6 312.4 C356.85 311.33 357.82 310.37 359 309.4 C360.18 308.43 361.5 307.22 362.7 306.6 C363.9 305.98 365.28 305.67 366.2 305.7 C367.12 305.73 367.5 306.15 368.2 306.8 C368.9 307.45 369.57 308.77 370.4 309.6 C371.23 310.43 372.27 311.23 373.2 311.8 C374.13 312.37 374.95 312.7 376 313 C377.05 313.3 378.25 313.77 379.5 313.6 C380.75 313.43 382.13 312.73 383.5 312 C384.87 311.27 386.12 310.37 387.7 309.2 C389.28 308.03 391.23 306.47 393 305 C394.77 303.53 396.7 301.87 398.3 300.4 C399.9 298.93 401.13 297.6 402.6 296.2 C404.07 294.8 406.07 292.9 407.1 292 C408.13 291.1 408.23 291.07 408.8 290.8 C409.37 290.53 409.87 290.38 410.5 290.4 C411.13 290.42 411.7 290.57 412.6 290.9 C413.5 291.23 413.28 291.27 415.9 292.4 C418.52 293.53 424.28 296.08 428.3 297.7 C432.32 299.32 436.38 300.88 440 302.1 C443.62 303.32 446.58 304.07 450 305 C453.42 305.93 458.75 307.25 460.5 307.7" stroke="#D95319" stroke-width="1.25" fill="none" stroke-linejoin="round" stroke-linecap="round"/>
<path d="M356 325.1 C356.83 324.45 359.3 322.43 361 321.2 C362.7 319.97 364.62 318.8 366.2 317.7 C367.78 316.6 369.17 315.4 370.5 314.6 C371.83 313.8 373.22 313.1 374.2 312.9 C375.18 312.7 375.67 313.03 376.4 313.4 C377.13 313.77 377.75 314.43 378.6 315.1 C379.45 315.77 380.52 316.75 381.5 317.4 C382.48 318.05 383.37 318.6 384.5 319 C385.63 319.4 386.88 320.03 388.3 319.8 C389.72 319.57 391.22 318.67 393 317.6 C394.78 316.53 396.95 314.8 399 313.4 C401.05 312 403.47 310.6 405.3 309.2 C407.13 307.8 408.52 306.33 410 305 C411.48 303.67 413.13 302.05 414.2 301.2 C415.27 300.35 415.67 300.17 416.4 299.9 C417.13 299.63 417.75 299.58 418.6 299.6 C419.45 299.62 420.18 299.73 421.5 300 C422.82 300.27 423.42 300.25 426.5 301.2 C429.58 302.15 435.42 304.4 440 305.7 C444.58 307 449.18 307.98 454 309 C458.82 310.02 466.42 311.33 468.9 311.8" stroke="#0072BD" stroke-width="1.25" fill="none" stroke-linejoin="round" stroke-linecap="round"/>
<path d="M365.4 330.1 C366.17 329.55 368.38 327.9 370 326.8 C371.62 325.7 373.6 324.47 375.1 323.5 C376.6 322.53 377.8 321.58 379 321 C380.2 320.42 381.33 320.1 382.3 320 C383.27 319.9 383.93 320.07 384.8 320.4 C385.67 320.73 386.58 321.52 387.5 322 C388.42 322.48 389.3 323.13 390.3 323.3 C391.3 323.47 392.22 323.38 393.5 323 C394.78 322.62 396.25 321.8 398 321 C399.75 320.2 401.92 319.15 404 318.2 C406.08 317.25 408.5 316.23 410.5 315.3 C412.5 314.37 414.32 313.45 416 312.6 C417.68 311.75 419.23 310.93 420.6 310.2 C421.97 309.47 423.07 308.67 424.2 308.2 C425.33 307.73 426.4 307.48 427.4 307.4 C428.4 307.32 429.17 307.47 430.2 307.7 C431.23 307.93 431.47 308.25 433.6 308.8 C435.73 309.35 439.58 310.43 443 311 C446.42 311.57 450.27 311.7 454.1 312.2 C457.93 312.7 462.22 313.38 466 314 C469.78 314.62 475 315.58 476.8 315.9" stroke="#A2142F" stroke-width="1.25" fill="none" stroke-linejoin="round" stroke-linecap="round"/>
<path d="M375.2 334.4 C376 333.9 378.37 332.37 380 331.4 C381.63 330.43 383.67 329.37 385 328.6 C386.33 327.83 387.08 327.23 388 326.8 C388.92 326.37 389.58 325.97 390.5 326 C391.42 326.03 392.35 326.6 393.5 327 C394.65 327.4 396.07 328.3 397.4 328.4 C398.73 328.5 400.07 328.1 401.5 327.6 C402.93 327.1 404.5 326.12 406 325.4 C407.5 324.68 408.92 323.97 410.5 323.3 C412.08 322.63 413.87 321.98 415.5 321.4 C417.13 320.82 418.72 320.37 420.3 319.8 C421.88 319.23 423.43 318.52 425 318 C426.57 317.48 428.37 317.13 429.7 316.7 C431.03 316.27 431.98 315.68 433 315.4 C434.02 315.12 434.63 315 435.8 315 C436.97 315 437.72 315.1 440 315.4 C442.28 315.7 445.25 316.33 449.5 316.8 C453.75 317.27 461.25 317.8 465.5 318.2 C469.75 318.6 471.78 318.82 475 319.2 C478.22 319.58 483.17 320.28 484.8 320.5" stroke="#4DBEEE" stroke-width="1.25" fill="none" stroke-linejoin="round" stroke-linecap="round"/>
<path d="M384.2 338.9 C385.33 338.32 388.63 336.48 391 335.4 C393.37 334.32 396.48 332.9 398.4 332.4 C400.32 331.9 401.15 332.33 402.5 332.4 C403.85 332.47 404.92 333.07 406.5 332.8 C408.08 332.53 409.98 331.7 412 330.8 C414.02 329.9 416.52 328.27 418.6 327.4 C420.68 326.53 422.48 326.12 424.5 325.6 C426.52 325.08 428.87 324.7 430.7 324.3 C432.53 323.9 433.85 323.52 435.5 323.2 C437.15 322.88 438.68 322.55 440.6 322.4 C442.52 322.25 444.75 322.37 447 322.3 C449.25 322.23 451.1 321.98 454.1 322 C457.1 322.02 461.22 322.28 465 322.4 C468.78 322.52 473.47 322.6 476.8 322.7 C480.13 322.8 482.42 322.8 485 323 C487.58 323.2 491.08 323.75 492.3 323.9" stroke="#77AC30" stroke-width="1.25" fill="none" stroke-linejoin="round" stroke-linecap="round"/>
<path d="M394.7 342.9 C395.83 342.42 399.2 340.9 401.5 340 C403.8 339.1 406.75 337.95 408.5 337.5 C410.25 337.05 410.82 337.3 412 337.3 C413.18 337.3 414.18 337.82 415.6 337.5 C417.02 337.18 418.65 336.25 420.5 335.4 C422.35 334.55 424.52 333.33 426.7 332.4 C428.88 331.47 431.72 330.3 433.6 329.8 C435.48 329.3 436.48 329.45 438 329.4 C439.52 329.35 441.03 329.63 442.7 329.5 C444.37 329.37 446.1 328.9 448 328.6 C449.9 328.3 451.27 327.8 454.1 327.7 C456.93 327.6 461.22 327.92 465 328 C468.78 328.08 473.3 328.22 476.8 328.2 C480.3 328.18 482.97 327.98 486 327.9 C489.03 327.82 493.5 327.73 495 327.7" stroke="#7E2F8E" stroke-width="1.25" fill="none" stroke-linejoin="round" stroke-linecap="round"/>
<path d="M405.5 347 C406.75 346.57 410.48 345.23 413 344.4 C415.52 343.57 418.43 342.63 420.6 342 C422.77 341.37 424.32 341.03 426 340.6 C427.68 340.17 429.12 339.97 430.7 339.4 C432.28 338.83 433.82 337.9 435.5 337.2 C437.18 336.5 439.3 335.62 440.8 335.2 C442.3 334.78 443.22 334.7 444.5 334.7 C445.78 334.7 446.9 335.03 448.5 335.2 C450.1 335.37 451.35 335.77 454.1 335.7 C456.85 335.63 461.22 335.07 465 334.8 C468.78 334.53 473.3 334.35 476.8 334.1 C480.3 333.85 482.85 333.53 486 333.3 C489.15 333.07 494.08 332.8 495.7 332.7" stroke="#EDB120" stroke-width="1.25" fill="none" stroke-linejoin="round" stroke-linecap="round"/>
<path d="M415 350.6 C416.25 350.23 419.88 349.23 422.5 348.4 C425.12 347.57 428.08 346.67 430.7 345.6 C433.32 344.53 435.65 342.87 438.2 342 C440.75 341.13 443.35 340.82 446 340.4 C448.65 339.98 450.93 339.73 454.1 339.5 C457.27 339.27 461.22 339.15 465 339 C468.78 338.85 473.47 338.77 476.8 338.6 C480.13 338.43 482.27 338.22 485 338 C487.73 337.78 491.83 337.42 493.2 337.3" stroke="#D95319" stroke-width="1.25" fill="none" stroke-linejoin="round" stroke-linecap="round"/>
<path d="M433.2 352.7 C434.5 352.22 438.28 350.67 441 349.8 C443.72 348.93 446.83 348.08 449.5 347.5 C452.17 346.92 454.33 346.63 457 346.3 C459.67 345.97 463 345.78 465.5 345.5 C468 345.22 469.67 344.92 472 344.6 C474.33 344.28 478.25 343.77 479.5 343.6" stroke="#0072BD" stroke-width="1.25" fill="none" stroke-linejoin="round" stroke-linecap="round"/>
<path d="M315.4 267.1 L315.4 329.2 L411.6 357.9 L534.8 336.42" fill="none" stroke="#7d7d7d" stroke-width="1.0"/>
<line x1="315.4" y1="329.2" x2="313.1" y2="329.6" stroke="#7d7d7d" stroke-width="0.8"/>
<text x="311.8" y="330.7" font-size="14" text-anchor="end" fill="#000">0</text>
<line x1="315.4" y1="308.5" x2="313.1" y2="308.9" stroke="#7d7d7d" stroke-width="0.8"/>
<text x="311.8" y="309.8" font-size="14" text-anchor="end" fill="#000">0.5</text>
<line x1="315.4" y1="287.8" x2="313.1" y2="288.2" stroke="#7d7d7d" stroke-width="0.8"/>
<text x="311.8" y="290.8" font-size="14" text-anchor="end" fill="#000">1</text>
<line x1="315.4" y1="267.1" x2="313.1" y2="267.5" stroke="#7d7d7d" stroke-width="0.8"/>
<text x="311.8" y="269.2" font-size="14" text-anchor="end" fill="#000">1.5</text>
<line x1="411.6" y1="357.9" x2="409.3" y2="358.4" stroke="#7d7d7d" stroke-width="0.8"/>
<line x1="392.36" y1="352.16" x2="390.06" y2="352.66" stroke="#7d7d7d" stroke-width="0.8"/>
<line x1="373.12" y1="346.42" x2="370.82" y2="346.92" stroke="#7d7d7d" stroke-width="0.8"/>
<line x1="353.88" y1="340.68" x2="351.58" y2="341.18" stroke="#7d7d7d" stroke-width="0.8"/>
<line x1="334.64" y1="334.94" x2="332.34" y2="335.44" stroke="#7d7d7d" stroke-width="0.8"/>
<line x1="315.4" y1="329.2" x2="313.1" y2="329.7" stroke="#7d7d7d" stroke-width="0.8"/>
<line x1="411.6" y1="357.9" x2="413.9" y2="358.7" stroke="#7d7d7d" stroke-width="0.8"/>
<line x1="442.4" y1="352.53" x2="444.7" y2="353.33" stroke="#7d7d7d" stroke-width="0.8"/>
<line x1="473.2" y1="347.16" x2="475.5" y2="347.96" stroke="#7d7d7d" stroke-width="0.8"/>
<line x1="504" y1="341.79" x2="506.3" y2="342.59" stroke="#7d7d7d" stroke-width="0.8"/>
<line x1="534.8" y1="336.42" x2="537.1" y2="337.22" stroke="#7d7d7d" stroke-width="0.8"/>
<text x="311.9" y="340.7" font-size="14" text-anchor="middle" fill="#000">1</text>
<text x="325.3" y="347" font-size="14" text-anchor="middle" textLength="17" lengthAdjust="spacing" fill="#000">0.8</text>
<text x="344.5" y="353" font-size="14" text-anchor="middle" textLength="17" lengthAdjust="spacing" fill="#000">0.6</text>
<text x="363.4" y="358.9" font-size="14" text-anchor="middle" textLength="17" lengthAdjust="spacing" fill="#000">0.4</text>
<text x="382.6" y="363.6" font-size="14" text-anchor="middle" textLength="17" lengthAdjust="spacing" fill="#000">0.2</text>
<text x="405.9" y="369.5" font-size="14" text-anchor="middle" fill="#000">0</text>
<text x="418" y="369" font-size="14" text-anchor="middle" fill="#000">0</text>
<text x="449.2" y="364.3" font-size="14" text-anchor="middle" fill="#000">1</text>
<text x="480.5" y="359" font-size="14" text-anchor="middle" fill="#000">2</text>
<text x="511.1" y="353.6" font-size="14" text-anchor="middle" fill="#000">3</text>
<text x="541.9" y="348.2" font-size="14" text-anchor="middle" fill="#000">4</text>
<text x="342.6" y="364.2" font-size="14" text-anchor="middle" font-style="italic" fill="#000">y</text>
<text x="486.2" y="367" font-size="14" text-anchor="middle" font-style="italic" fill="#000">x</text>
<text x="291.8" y="299.9" font-size="14" text-anchor="middle" textLength="24.5" lengthAdjust="spacing" transform="rotate(-90 291.8 299.9)" fill="#000">WH</text>
<text x="430.6" y="390.6" font-size="14" text-anchor="middle" textLength="74.5" lengthAdjust="spacing" fill="#000">(d)WH curve</text>
<rect x="144.6" y="6.1" width="297.6" height="43.7" fill="#fff" stroke="#808080" stroke-width="1.1"/>
<line x1="149.2" y1="13.6" x2="162.5" y2="13.6" stroke="#0072BD" stroke-width="1.1"/>
<text x="168" y="18.2" font-size="14" text-anchor="start" textLength="21.5" lengthAdjust="spacing" fill="#000"><tspan font-style="italic">y</tspan>=0</text>
<line x1="149.2" y1="27.1" x2="162.5" y2="27.1" stroke="#D95319" stroke-width="1.1"/>
<text x="168" y="31.7" font-size="14" text-anchor="start" textLength="46.4" lengthAdjust="spacing" fill="#000"><tspan font-style="italic">y</tspan>=0.091</text>
<line x1="149.2" y1="40.4" x2="162.5" y2="40.4" stroke="#EDB120" stroke-width="1.1"/>
<text x="168" y="45" font-size="14" text-anchor="start" textLength="46.4" lengthAdjust="spacing" fill="#000"><tspan font-style="italic">y</tspan>=0.182</text>
<line x1="220.9" y1="13.6" x2="234.4" y2="13.6" stroke="#7E2F8E" stroke-width="1.1"/>
<text x="243.3" y="18.2" font-size="14" text-anchor="start" textLength="46.4" lengthAdjust="spacing" fill="#000"><tspan font-style="italic">y</tspan>=0.273</text>
<line x1="220.9" y1="27.1" x2="234.4" y2="27.1" stroke="#77AC30" stroke-width="1.1"/>
<text x="243.3" y="31.7" font-size="14" text-anchor="start" textLength="46.4" lengthAdjust="spacing" fill="#000"><tspan font-style="italic">y</tspan>=0.364</text>
<line x1="220.9" y1="40.4" x2="234.4" y2="40.4" stroke="#4DBEEE" stroke-width="1.1"/>
<text x="243.3" y="45" font-size="14" text-anchor="start" textLength="46.4" lengthAdjust="spacing" fill="#000"><tspan font-style="italic">y</tspan>=0.455</text>
<line x1="297.3" y1="13.6" x2="310.8" y2="13.6" stroke="#A2142F" stroke-width="1.1"/>
<text x="317.3" y="18.2" font-size="14" text-anchor="start" textLength="46.4" lengthAdjust="spacing" fill="#000"><tspan font-style="italic">y</tspan>=0.545</text>
<line x1="297.3" y1="27.1" x2="310.8" y2="27.1" stroke="#0072BD" stroke-width="1.1"/>
<text x="317.3" y="31.7" font-size="14" text-anchor="start" textLength="46.4" lengthAdjust="spacing" fill="#000"><tspan font-style="italic">y</tspan>=0.636</text>
<line x1="297.3" y1="40.4" x2="310.8" y2="40.4" stroke="#D95319" stroke-width="1.1"/>
<text x="317.3" y="45" font-size="14" text-anchor="start" textLength="46.4" lengthAdjust="spacing" fill="#000"><tspan font-style="italic">y</tspan>=0.727</text>
<line x1="371.5" y1="13.6" x2="384.5" y2="13.6" stroke="#EDB120" stroke-width="1.1"/>
<text x="391.8" y="18.2" font-size="14" text-anchor="start" textLength="46.4" lengthAdjust="spacing" fill="#000"><tspan font-style="italic">y</tspan>=0.818</text>
<line x1="371.5" y1="27.1" x2="384.5" y2="27.1" stroke="#7E2F8E" stroke-width="1.1"/>
<text x="391.8" y="31.7" font-size="14" text-anchor="start" textLength="46.4" lengthAdjust="spacing" fill="#000"><tspan font-style="italic">y</tspan>=0.909</text>
<line x1="371.5" y1="40.4" x2="384.5" y2="40.4" stroke="#77AC30" stroke-width="1.1"/>
<text x="391.8" y="45" font-size="14" text-anchor="start" textLength="21.5" lengthAdjust="spacing" fill="#000"><tspan font-style="italic">y</tspan>=1</text>
</svg>
</body>
</html>
